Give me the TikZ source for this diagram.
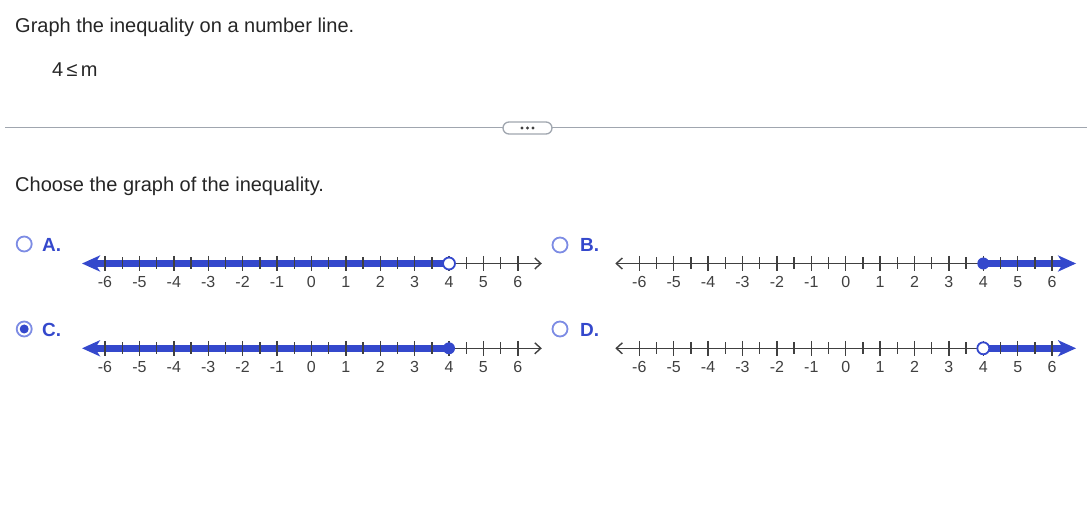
\documentclass[tikz,border=0pt]{standalone}
\usepackage{fontspec}
\setmainfont{Liberation Sans}
\usetikzlibrary{arrows.meta,positioning,calc}
\definecolor{answerblue}{RGB}{52,72,204}
\definecolor{radioblue}{RGB}{125,140,228}
\definecolor{textgray}{RGB}{38,38,38}
\definecolor{axisgray}{RGB}{64,64,64}
\definecolor{rulegray}{RGB}{160,166,175}

\tikzset{
  prompt/.style={anchor=base west, text=textgray, inner sep=0pt,
    font=\fontsize{20}{24}\selectfont},
  choiceletter/.style={anchor=base west, text=answerblue, inner sep=0pt,
    font=\fontsize{19}{22}\selectfont\bfseries},
  ticklabel/.style={anchor=base, text=axisgray, inner sep=0pt,
    font=\fontsize{16}{18}\selectfont},
  radio/.style={circle, draw=radioblue, line width=1.8pt, minimum size=15pt, inner sep=0pt},
  axisline/.style={draw=axisgray, line width=1.4pt},
  ray/.style={draw=answerblue, line width=6.5pt},
  opendot/.style={circle, draw=answerblue, fill=white, line width=1.8pt,
    minimum size=12pt, inner sep=0pt},
  closeddot/.style={circle, fill=answerblue, minimum size=12pt, inner sep=0pt},
  graytip/.style={-{Straight Barb[length=6pt,width=11pt,line width=1.4pt]}},
  bluetip/.style={-{Stealth[length=18pt,width=16pt,inset=5pt]}}
}

% ticks and numbers of one number line (scope shifted to the -6 mark)
\newcommand{\ticksandlabels}{%
  \foreach \n in {0,...,11}
    \draw[axisgray, line width=1.4pt] ({(\n+0.5)*34.4},-6) -- ({(\n+0.5)*34.4},6);
  \foreach \n in {-6,...,6} {
    \draw[axisgray, line width=1.4pt] ({(\n+6)*34.4},-7.5) -- ({(\n+6)*34.4},7.5);
    \node[ticklabel] at ({(\n+6)*34.4},24) {\n};
  }%
}

\begin{document}
\begin{tikzpicture}[x=1pt, y=-1pt]
  \useasboundingbox (0,0) rectangle (1087,518);

  % question
  \node[prompt] (title) at (15,32.5) {Graph the inequality on a number line.};
  \node[prompt] (ineq) at (52,76.5) {4\,≤\,m};

  % separator with the expand button
  \coordinate (ruleL) at (5,128);
  \coordinate (ruleR) at (1087,128);
  \draw[rulegray, line width=1pt] (ruleL) -- (ruleR);
  \node[draw=rulegray, fill=white, line width=1.3pt, rounded corners=6pt,
        minimum width=49pt, minimum height=12pt, inner sep=0pt] (more) at (527.5,128) {};
  \foreach \dx in {-5.5,0,5.5}
    \fill[axisgray] ($(more.center)+(\dx,0)$) circle (1.6pt);

  \node[prompt] (choose) at (15,192) {Choose the graph of the inequality.};

  % answer choices
  \node[radio] (radioA) at (24.2,244) {};
  \node[choiceletter] (letterA) at (42,252) {A.};
  \node[radio] (radioB) at (560,245) {};
  \node[choiceletter] (letterB) at (580,252) {B.};
  \node[radio] (radioC) at (24.2,329) {};
  \fill[answerblue] (radioC.center) circle (4.5pt);
  \node[choiceletter] (letterC) at (42,337) {C.};
  \node[radio] (radioD) at (560,329) {};
  \node[choiceletter] (letterD) at (580,337) {D.};

  % A: open circle at 4, ray to the left
  \begin{scope}[shift={(105,263.5)}]
    \coordinate (aL) at (-23,0);
    \coordinate (aR) at (436.8,0);
    \coordinate (aP) at (344,0);
    \draw[axisline, graytip] (aP) -- (aR);
    \draw[ray, bluetip] (aP) -- (aL);
    \ticksandlabels
    \node[opendot] (dotA) at (aP) {};
  \end{scope}

  % B: closed circle at 4, ray to the right
  \begin{scope}[shift={(639.3,263.5)}]
    \coordinate (bL) at (-24,0);
    \coordinate (bR) at (436.8,0);
    \coordinate (bP) at (344,0);
    \draw[axisline, graytip] (bP) -- (bL);
    \draw[ray, bluetip] (bP) -- (bR);
    \ticksandlabels
    \node[closeddot] (dotB) at (bP) {};
  \end{scope}

  % C: closed circle at 4, ray to the left
  \begin{scope}[shift={(105,348.3)}]
    \coordinate (cL) at (-23,0);
    \coordinate (cR) at (436.8,0);
    \coordinate (cP) at (344,0);
    \draw[axisline, graytip] (cP) -- (cR);
    \draw[ray, bluetip] (cP) -- (cL);
    \ticksandlabels
    \node[closeddot] (dotC) at (cP) {};
  \end{scope}

  % D: open circle at 4, ray to the right
  \begin{scope}[shift={(639.3,348.3)}]
    \coordinate (dL) at (-24,0);
    \coordinate (dR) at (436.8,0);
    \coordinate (dP) at (344,0);
    \draw[axisline, graytip] (dP) -- (dL);
    \draw[ray, bluetip] (dP) -- (dR);
    \ticksandlabels
    \node[opendot] (dotD) at (dP) {};
  \end{scope}
\end{tikzpicture}
\end{document}
